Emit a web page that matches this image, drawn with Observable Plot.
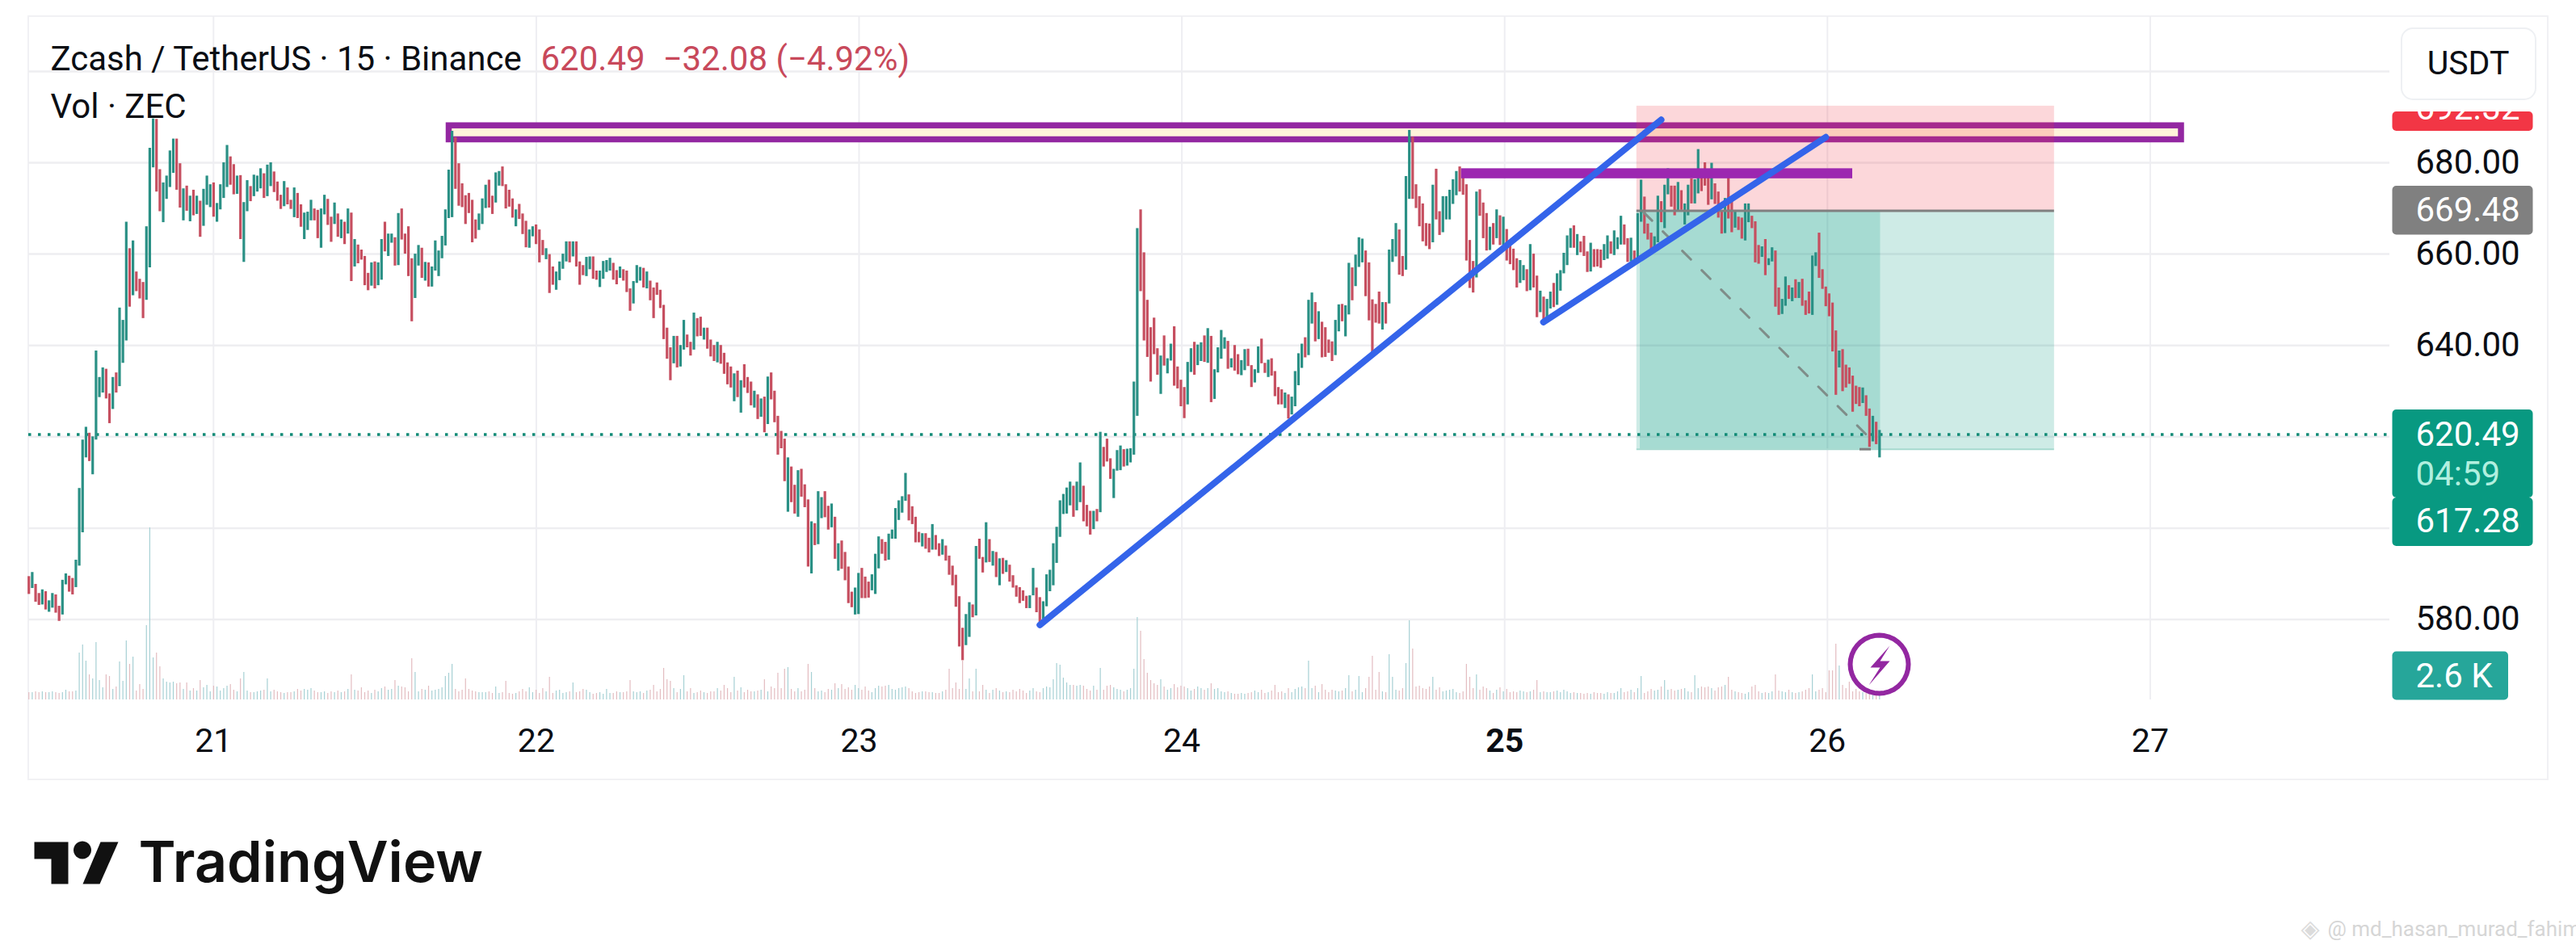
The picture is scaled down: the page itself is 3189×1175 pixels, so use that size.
<!DOCTYPE html>
<html><head><meta charset="utf-8">
<script src="https://cdn.jsdelivr.net/npm/d3@7"></script>
<script src="https://cdn.jsdelivr.net/npm/@observablehq/plot@0.6"></script>
<style>html,body{margin:0;padding:0;background:#fff}</style></head><body><div id="chart"></div>
<script>
// ---- bar ranges (ZEC/USDT 15 minute), ten per row
const barHigh = [
589.4,590.3,587.7,585.7,586.5,586.1,584.1,585.7,585.4,582.9,
588.6,590.0,589.5,589.0,593.0,608.7,619.3,622.1,620.8,620.0,
638.8,633.0,635.1,634.8,629.4,633.0,634.0,648.2,645.5,667.0,
661.2,662.9,656.1,654.5,653.8,666.0,683.2,689.6,689.5,678.5,
675.6,677.1,682.6,685.2,685.2,679.8,674.3,674.9,672.7,674.0,
672.7,671.6,674.2,677.1,675.2,675.6,671.1,675.2,680.0,683.8,
681.3,679.6,677.1,677.2,671.3,676.1,674.8,677.3,677.1,678.7,
677.6,679.5,680.0,678.0,675.8,672.9,675.9,674.5,671.8,674.5,
673.3,670.8,669.0,669.2,671.8,669.9,669.6,669.9,672.9,672.0,
668.1,671.2,668.8,667.5,667.0,669.9,669.0,663.2,662.0,660.9,
659.5,655.8,658.1,658.3,658.1,663.2,667.0,664.4,664.4,663.6,
668.9,669.9,664.4,666.0,659.0,660.0,661.9,661.3,658.2,658.1,
657.2,662.9,660.7,663.9,669.7,678.4,686.9,685.5,679.8,675.4,
672.8,673.3,671.8,667.5,668.8,672.1,675.1,676.2,672.7,677.8,
678.1,679.1,675.2,674.0,672.1,669.7,670.9,668.8,667.2,665.3,
666.0,666.4,665.3,663.0,661.2,659.9,657.2,656.1,658.3,660.0,
662.7,662.7,662.7,662.7,658.3,657.5,659.3,659.4,659.4,656.3,
656.3,658.4,658.6,659.1,658.0,656.4,657.2,656.6,656.3,652.4,
654.0,657.5,657.1,656.9,656.1,654.1,652.6,653.7,652.1,648.8,
643.8,639.5,642.0,642.0,640.0,645.5,642.3,640.7,647.1,645.9,
646.2,643.8,643.8,641.2,640.0,640.7,640.0,638.3,636.2,635.3,
633.8,634.4,632.3,635.8,633.0,632.0,630.0,629.2,628.3,628.7,
633.1,634.0,630.0,624.5,621.2,619.5,615.4,613.4,609.4,612.6,
612.9,609.5,606.2,601.4,601.0,608.0,606.7,608.0,604.8,605.3,
602.4,596.6,597.2,594.7,591.5,586.0,586.9,590.1,591.2,589.3,
588.2,589.8,594.3,598.1,597.5,596.9,598.7,599.6,604.3,606.0,
606.9,612.0,607.3,604.7,602.4,599.1,598.8,598.8,597.8,600.8,
598.4,596.6,597.5,596.1,593.9,591.7,589.7,585.0,578.1,581.1,
583.7,583.2,596.0,597.6,593.6,601.2,597.5,594.9,594.7,593.3,
593.4,592.9,591.9,589.6,587.4,587.0,586.3,585.1,585.2,591.2,
586.9,584.8,583.9,589.8,590.8,596.6,600.2,606.0,607.4,608.8,
610.1,609.2,610.1,614.3,609.2,605.0,603.7,603.7,604.1,621.0,
617.7,619.5,615.2,612.9,617.0,618.0,617.2,617.3,617.4,632.0,
665.6,669.7,660.3,649.9,643.9,646.0,639.3,637.7,642.1,637.1,
640.3,644.1,635.3,632.4,630.8,636.3,639.3,640.7,640.1,640.6,
642.1,643.7,642.0,634.7,639.5,643.3,641.7,640.9,637.1,640.0,
638.0,636.7,639.1,639.2,635.6,634.7,639.7,641.4,636.1,636.8,
637.1,634.3,630.8,630.3,629.6,629.2,628.7,634.3,638.2,640.3,
641.7,649.9,651.5,649.4,647.4,645.1,643.9,641.2,640.8,645.5,
648.9,649.0,648.7,658.0,657.0,659.8,663.6,663.3,660.7,658.1,
650.0,649.0,651.7,649.4,649.4,660.9,663.2,666.7,665.3,659.5,
677.0,687.1,685.6,675.2,672.6,671.0,666.7,666.6,675.1,678.6,
669.3,672.6,672.6,674.0,676.3,678.1,679.1,678.4,675.2,663.0,
658.4,673.6,674.1,671.2,668.9,665.9,666.7,669.7,668.4,668.1,
665.4,662.8,661.1,659.0,658.6,657.5,656.6,662.1,660.0,655.2,
651.9,650.6,650.1,651.7,653.6,655.7,656.4,660.2,664.0,665.6,
666.2,664.3,662.7,663.9,660.5,662.4,661.0,661.0,660.9,662.1,
664.0,662.7,665.1,663.6,668.3,666.4,663.4,663.5,660.7,668.9,
676.2,672.5,666.6,664.6,663.8,672.7,671.5,675.1,678.7,674.9,
674.9,675.7,673.9,671.0,675.1,676.5,676.3,682.9,678.4,680.0,
677.8,679.9,675.4,673.6,669.4,672.2,678.1,672.2,669.4,668.1,
667.9,671.0,671.0,668.3,667.1,661.9,661.6,663.2,659.0,661.4,
660.7,652.6,650.1,655.0,653.1,652.6,654.4,653.8,654.5,649.8,
651.7,659.6,660.3,664.6,656.6,652.8,651.3,649.3,643.2,638.8,
639.1,635.7,635.1,633.3,631.1,630.8,630.7,629.0,626.1,624.5,
623.2,621.4];
const barLow = [
585.5,586.8,583.8,583.1,583.2,582.1,581.6,582.5,581.4,579.6,
581.0,587.6,586.0,585.4,587.0,591.7,599.0,615.4,614.6,611.7,
619.3,628.6,629.6,628.3,622.9,626.0,629.6,631.0,636.1,641.0,
648.4,650.9,651.8,650.2,645.9,649.9,657.0,678.9,673.6,669.3,
666.9,672.0,674.6,677.7,674.0,670.1,667.3,669.4,667.1,668.4,
668.7,663.7,666.1,670.7,670.2,668.1,667.0,669.7,672.2,674.6,
675.1,673.0,673.1,663.2,658.2,669.3,671.5,672.6,673.6,674.3,
672.2,672.6,674.8,673.5,671.6,669.8,670.4,670.8,669.8,668.0,
667.8,665.9,663.2,665.2,667.3,667.3,663.4,661.3,668.6,666.3,
662.6,666.5,663.7,663.4,662.1,664.4,654.0,657.2,657.9,658.7,
653.1,652.0,653.0,652.4,653.1,654.3,660.5,659.5,662.4,657.4,
657.5,663.1,660.0,655.1,645.2,650.3,657.4,654.7,654.1,652.8,
652.8,656.3,655.1,659.0,661.8,667.8,668.0,674.2,670.5,670.2,
666.5,668.9,662.5,663.3,665.2,666.5,670.0,670.1,668.7,671.2,
674.9,674.8,669.9,670.3,667.9,666.0,667.6,664.3,661.4,661.3,
663.8,662.1,658.1,659.7,658.8,651.4,653.2,652.1,654.2,656.7,
658.3,658.1,659.4,657.2,653.2,655.3,655.1,656.6,654.5,654.3,
652.7,654.5,656.0,656.3,654.3,653.3,654.7,654.1,651.6,647.5,
649.1,653.6,654.1,652.6,652.4,649.8,645.9,651.0,648.1,641.3,
637.0,632.3,636.0,635.1,635.3,639.0,639.5,637.7,639.0,641.9,
642.0,641.2,639.2,637.5,636.5,636.2,635.9,633.7,631.4,630.7,
627.7,628.6,625.2,630.7,629.5,626.8,626.3,623.8,624.3,620.9,
622.7,628.1,623.1,616.0,617.4,610.2,603.5,605.6,603.1,602.4,
606.8,604.5,591.5,590.0,596.2,596.4,602.1,602.3,599.6,600.1,
593.2,590.6,591.0,588.5,583.5,582.6,581.0,581.1,584.6,584.6,
584.7,586.3,585.5,591.1,594.3,592.8,593.0,597.6,597.6,601.7,
603.3,605.9,601.6,600.8,596.8,596.8,595.9,595.4,594.6,595.2,
595.2,593.8,594.1,592.8,589.7,587.4,582.7,574.0,571.0,574.3,
576.1,580.4,580.8,593.2,590.2,592.4,592.5,591.7,589.2,587.4,
589.9,590.3,588.2,586.9,584.9,583.5,584.0,582.4,582.4,585.2,
581.5,579.4,580.0,582.8,586.1,587.4,592.3,598.0,603.0,603.1,
604.9,602.4,603.8,605.6,601.4,600.3,598.5,599.7,601.4,603.4,
613.4,614.5,610.7,606.5,612.5,612.6,613.4,613.6,614.3,616.0,
624.5,651.8,641.0,637.4,632.0,638.0,633.5,629.3,635.5,633.8,
636.6,631.1,630.5,626.6,624.0,627.0,634.1,633.5,635.6,636.5,
636.3,636.1,627.5,628.2,634.0,637.0,639.2,634.8,635.1,634.4,
633.6,633.4,634.5,635.4,630.8,631.8,633.9,636.0,633.9,633.0,
633.3,628.8,627.0,627.0,626.2,623.9,624.8,626.6,631.2,635.0,
637.3,637.8,644.7,640.8,641.3,637.3,637.4,638.3,636.5,637.8,
643.0,645.2,641.9,646.7,649.8,652.9,657.1,658.1,650.7,645.4,
638.3,644.9,644.7,643.4,644.7,649.1,658.2,659.4,655.4,655.1,
656.5,672.0,672.0,670.0,666.0,662.7,661.7,661.0,662.5,667.5,
664.1,664.7,667.5,667.5,670.9,672.8,673.6,672.9,658.5,652.5,
651.5,654.8,668.3,663.4,660.7,660.8,662.0,663.4,661.9,661.9,
658.5,657.7,656.4,652.6,653.6,654.2,651.8,652.0,652.6,646.1,
647.2,645.1,645.7,648.0,648.3,648.8,651.9,655.7,657.5,661.3,
661.3,659.7,660.3,659.5,656.0,656.1,657.1,657.2,656.9,658.6,
658.9,660.0,659.7,661.0,662.0,662.0,658.2,658.3,657.9,659.1,
667.0,664.4,663.1,661.0,661.0,662.5,666.9,665.6,673.0,670.3,
668.4,669.4,669.6,666.4,668.4,671.0,671.0,673.2,673.7,674.9,
670.7,671.9,670.9,667.9,664.4,664.5,667.7,664.7,665.7,665.2,
663.3,662.9,666.9,665.6,658.1,657.8,659.3,655.3,657.5,658.3,
648.4,646.6,646.8,648.6,650.1,649.6,650.3,650.3,648.6,646.6,
646.9,646.6,657.3,654.7,652.3,648.5,646.3,638.6,629.1,635.1,
629.9,630.7,631.5,625.4,627.1,626.6,627.3,624.5,617.7,618.9,
618.3,615.4];
// bar colour as read, g = up, r = down
const barDir = [
"rgrrgrggrr","ggrrgggggg".replace(/^ggrrgggggg$/,"ggrrggggrg"),"gggrrgrggg","rgrrrgggrr","ggggrrgrgr",
"grgggrgggg","rrgrggrggg","rggrrrgrrg","rrgggrrggr","rgrgrgrgrr","rrgrggrggr",
"grrrrggrgr","gggggggrrr","rrrrgggrrg","grrrrgrrrg","grrrgrrggg",
"grgrrrggrr","ggggrrgrrr","gggrgrrrrr","rrgrggrrgr","rgrrrgrrrr","grgrrrgrgr",
"grrrrrgrrg","rrrgrggrrg","rgrrrrggrr","rgggrrgggg","ggrrrrgrrg",
"rrgrrrrrrg","grgrrgrgrg","rgrrrrrrgg","rrgggggggg","grggrrrgrg","rrrgggrggg","g",
"rrrrrrgrgg","rrrrggrggr","grggggrgrr","ggrrggrrgr","rrrgrggggr",
"ggrgrrrrgg","rggrgggrrr","rrgrgggrrg","grrrrrrgrr","gggggrrrrr","grrr",
"grgrgrrrrg","grgrrgrggr","gggggrgrrr","grrrggrggg","rrgrggrrrg",
"grggrrgrgg","rggrrrgrrr","grrgrrggrr","rgrggrrggr","grgrrrggrr","rrrrgrrrrr","rgrrgrg"
].join("").split("");
// volume heights, one unit = 300 ZEC
const volume = [
9,9,10,9,10,9,9,10,9,8,9,12,10,10,11,58,68,48,31,26,71,24,15,31,29,13,16,47,23,73,44,53,11,19,13,92,213,52,58,41,
26,22,21,22,20,21,13,21,11,14,11,24,15,18,10,17,16,11,14,17,19,12,10,26,34,11,9,9,10,11,12,26,10,12,10,9,8,9,9,10,
13,11,13,12,14,11,9,9,10,8,10,9,11,9,10,13,31,12,11,15,9,11,8,12,10,14,16,12,13,24,17,16,15,10,51,34,10,13,12,17,
11,12,13,15,29,33,44,13,10,12,26,13,11,10,9,9,9,10,8,16,8,9,23,8,7,8,10,13,10,15,9,12,8,14,10,28,8,11,12,8,
9,10,21,9,10,13,12,9,7,8,9,7,13,8,8,10,9,9,10,24,10,9,10,8,11,12,18,10,13,39,25,23,14,9,13,30,10,14,8,9,
11,9,8,10,10,14,11,18,14,9,28,11,15,9,12,10,10,11,12,25,10,16,14,33,14,38,40,13,10,14,10,12,44,34,14,10,11,9,13,12,
20,14,19,13,15,12,18,14,12,16,11,9,14,17,16,17,18,13,12,14,15,16,14,10,8,9,10,10,9,9,8,8,10,12,38,14,21,13,48,13,
26,10,38,10,18,12,8,12,14,11,9,10,9,12,10,13,11,8,11,14,10,9,14,16,15,25,45,43,27,21,18,18,17,18,17,13,11,17,12,39,
12,17,18,15,13,12,10,12,14,38,102,85,50,33,24,20,18,25,16,12,14,19,15,17,16,14,11,13,16,14,12,14,20,13,14,10,9,10,8,7,
7,8,7,8,9,11,9,12,8,9,11,18,9,10,8,14,9,13,15,16,14,48,14,17,9,19,12,9,12,11,10,11,14,30,10,12,29,9,14,28,
54,12,34,10,9,56,28,12,11,14,45,98,63,16,17,14,13,16,28,12,15,10,11,12,13,9,8,10,44,28,14,31,12,16,14,11,8,12,15,10,
13,9,10,9,11,10,9,10,12,24,9,10,9,9,10,11,9,12,10,8,9,8,8,7,8,7,9,8,8,7,9,8,8,10,14,9,10,12,9,14,
29,8,10,13,11,12,16,24,12,13,11,12,13,14,10,9,30,14,16,15,16,14,11,15,16,18,28,12,10,9,8,7,9,16,18,10,8,9,8,10,
31,11,10,9,12,9,8,9,10,12,14,31,10,12,14,9,36,36,69,42,18,14,22,10,13,10,9,8,7,7,9,9];
// ---- labels and levels
const dayTicks = [21,22,23,24,26,27];
const boldDayTicks = [25];
const priceTicks = [580,640,660,680];
const gridPrices = [580,600,620,640,660,680,700];
const gridDays = [21,22,23,24,25,26,27];
const lastPrice = 620.49, entryPrice = 669.48, stopPrice = 692.32, targetPrice = 617.28;
const firstDay = 20.428, lastDay = 26.1614;
const trendA = [{d:23.560,p:578.8},{d:25.485,p:689.4}];
const trendB = [{d:25.120,p:645.1},{d:25.995,p:685.6}];
const barPath = [{d:25.43,p:669.2},{d:26.147,p:618.6}];

// pixel helpers for the chrome around the plot
const xPx = px => 21 + (px - 263.8) / 399.6;
const yPx = py => 680 - (py - 201) / 5.655;
const VOL0 = yPx(866), volK = 1 / 5.655;
const n = barHigh.length;
const candles = barHigh.map((h,i)=>({day:firstDay+i*(lastDay-firstDay)/(n-1),high:h,low:barLow[i],dir:barDir[i]==="g"?"up":"down",vol:volume[i]??8}));

const box = (x1,x2,y1,y2,o) => Plot.rect([0],{x1:()=>x1,x2:()=>x2,y1:()=>y1,y2:()=>y2,...o});
const boxPx = (x1,x2,y1,y2,o) => box(xPx(x1),xPx(x2),yPx(y2),yPx(y1),o);
const label = (t,x,y,o) => Plot.text([t],{x:()=>xPx(x),y:()=>yPx(y),text:d=>d,textAnchor:"start",lineAnchor:"middle",fontSize:42,...o});
const poly = (pts,o) => Plot.line(pts,{x:p=>xPx(p[0]),y:p=>yPx(p[1]),...o});
const P = "#9327a1", GREEN="#089981", INK="#0b0e14", BADGEX1=2961.5, BADGEX2=3135.5;
const cx=2326, cy=822;
const circlePts = d3.range(0,361,10).map(a=>[cx+36*Math.cos(a*Math.PI/180),cy+36*Math.sin(a*Math.PI/180)]);
const bolt = [[13,-23],[-11,4],[1,4],[-13,26],[13,-4],[1,-4],[13,-23]].map(p=>[cx+p[0],cy+p[1]]);

const chart = Plot.plot({
  width:3189,height:1175,marginLeft:35,marginRight:231,marginTop:20,marginBottom:309,
  style:{fontFamily:"Roboto, sans-serif",background:"#fff",overflow:"visible"},
  x:{type:"linear",domain:[xPx(35),xPx(2958)]},
  y:{type:"linear",domain:[yPx(866),yPx(20)]},
  color:{domain:["up","down"],range:["#2a9085","#c64f60"]},
  marks:[
    boxPx(35,3154,20,965,{fill:"none",stroke:"#f1f1f4",strokeWidth:2}),
    Plot.gridY(gridPrices,{stroke:"#eeeef1",strokeOpacity:1,strokeWidth:2.5}),
    Plot.gridX(gridDays,{stroke:"#eeeef2",strokeOpacity:1,strokeWidth:2}),
    // resistance box
    box(xPx(555.5),xPx(2700),685.04,688.1,{fill:"#fff4da",stroke:P,strokeWidth:7.5}),
    // short position tool
    box(xPx(2025.8),xPx(2542.8),entryPrice,692.4,{fill:"#f23645",fillOpacity:.2}),
    box(xPx(2025.8),xPx(2542.8),targetPrice,entryPrice,{fill:GREEN,fillOpacity:.2}),
    box(xPx(2030),xPx(2327.5),targetPrice,entryPrice,{fill:GREEN,fillOpacity:.2}),
    Plot.ruleY([targetPrice],{x1:()=>xPx(2025.8),x2:()=>xPx(2542.8),stroke:"#a3d8ce",strokeWidth:2}),
    // volume
    Plot.ruleX(candles,{x:"day",y1:()=>VOL0,y2:d=>VOL0+d.vol*volK,stroke:d=>d.dir==="up"?"#a6d0d4":"#e3bcc0",strokeWidth:1.2}),
    Plot.ruleY([lastPrice],{stroke:"#0f8a76",strokeWidth:3.5,strokeDasharray:"3.5,8.5"}),
    // candles
    Plot.ruleX(candles,{x:"day",y1:"low",y2:"high",stroke:"dir",strokeWidth:3.2}),
    Plot.ruleY([entryPrice],{x1:()=>xPx(2025.8),x2:()=>xPx(2542.8),stroke:"#808080",strokeWidth:3}),
    Plot.line(barPath,{x:"d",y:"p",stroke:"#7f8d89",strokeWidth:3,strokeDasharray:"15,19"}),
    Plot.ruleY([targetPrice],{x1:()=>xPx(2302),x2:()=>xPx(2316),stroke:"#808080",strokeWidth:3}),
    box(xPx(1808.7),xPx(2293),676.5,678.7,{fill:"#9c27b0"}),
    Plot.line(trendA,{x:"d",y:"p",stroke:"#3464ea",strokeWidth:8,strokeLinecap:"round"}),
    Plot.line(trendB,{x:"d",y:"p",stroke:"#3464ea",strokeWidth:8,strokeLinecap:"round"}),
    // axes
    Plot.axisX({ticks:dayTicks,tickSize:0,tickPadding:35,tickFormat:d=>d,fontSize:41,label:null,fill:INK}),
    Plot.axisX({ticks:boldDayTicks,tickSize:0,tickPadding:35,tickFormat:d=>d,fontSize:41,fontWeight:"bold",label:null,fill:INK}),
    Plot.axisY({ticks:priceTicks,anchor:"right",tickSize:0,tickPadding:32,tickFormat:d3.format(".2f"),fontSize:42,label:null,fill:INK}),
    // price badges
    boxPx(BADGEX1,BADGEX2,138,162,{fill:"#f23645",rx:5}),
    label(stopPrice.toFixed(2),2990,134,{fill:"#fff"}),
    boxPx(BADGEX1-2,BADGEX2+2,90,138,{fill:"#fff"}),
    boxPx(2973,3139,35,123,{fill:"#fff",stroke:"#eef0f3",strokeWidth:2,rx:14}),
    label("USDT",3055,78,{textAnchor:"middle",fill:INK,fontSize:41}),
    boxPx(BADGEX1,BADGEX2,230,290.5,{fill:"#808080",rx:5}),
    label(entryPrice.toFixed(2),2990,260.5,{fill:"#fff"}),
    boxPx(BADGEX1,BADGEX2,507,616,{fill:GREEN,rx:5}),
    boxPx(BADGEX1,BADGEX2,616,676,{fill:GREEN,rx:5}),
    label(lastPrice.toFixed(2),2990,538,{fill:"#fff"}),
    label("04:59",2990,587,{fill:"#b1efdf"}),
    label(targetPrice.toFixed(2),2990,645.5,{fill:"#fff"}),
    boxPx(BADGEX1,3105,806.5,866.5,{fill:"#26a69a",rx:5}),
    label("2.6 K",2990,837.5,{fill:"#fff"}),
    // legend
    label("Zcash / TetherUS · 15 · Binance",62,73,{fill:INK}),
    label("620.49",669,73,{fill:"#c8495b"}),
    label("−32.08 (−4.92%)",820,73,{fill:"#c8495b"}),
    label("Vol · ZEC",62,132,{fill:INK}),
    // bolt marker
    poly(circlePts,{fill:"#fff",stroke:"#9327a1",strokeWidth:6}),
    poly(bolt,{fill:"#9327a1",stroke:"none"}),
    // logo
    poly([[42,1042],[84,1042],[84,1094],[63,1094],[63,1063],[42,1063],[42,1042]],{fill:"#111",stroke:"none"}),
    poly(d3.range(0,361,15).map(a=>[101.5+11*Math.cos(a*Math.PI/180),1052+11*Math.sin(a*Math.PI/180)]),{fill:"#111",stroke:"none"}),
    poly([[124,1042],[146,1042],[123,1094],[102,1094],[124,1042]],{fill:"#111",stroke:"none"}),
    label("TradingView",171,1069,{fill:"#111",fontFamily:"Inter",fontWeight:600,fontSize:70}),
    // watermark
    label("◈",2848,1150,{fill:"#dcdcdc",fontSize:30,fontFamily:"DejaVu Sans"}),
    label("@ md_hasan_murad_fahim",2881,1150,{fill:"#d6d6d6",fontSize:26})
  ]
});
document.getElementById("chart").appendChild(chart);
</script></body></html>
